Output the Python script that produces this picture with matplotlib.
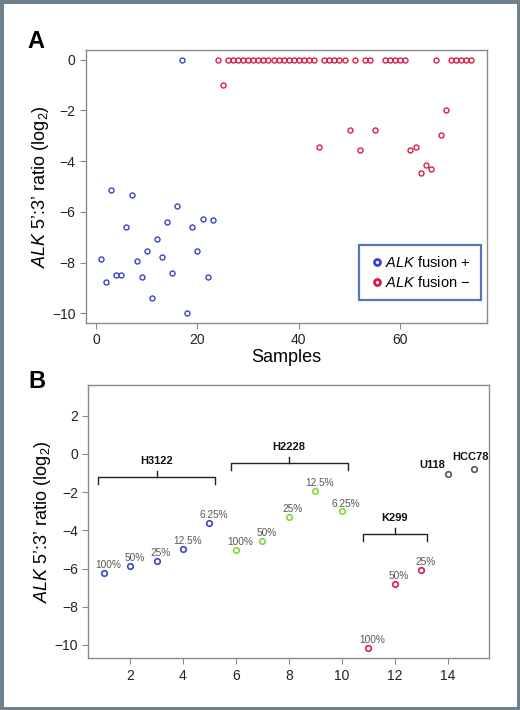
import matplotlib
matplotlib.use("Agg")
import matplotlib.pyplot as plt
from matplotlib.patches import Rectangle

plt.rcParams['font.family'] = ['Liberation Sans', 'DejaVu Sans']
plt.rcParams['mathtext.fontset'] = 'custom'
plt.rcParams['mathtext.rm'] = 'Liberation Sans'
plt.rcParams['mathtext.it'] = 'Liberation Sans:italic'

# Panel A: ALK 5':3' ratio per sample
pos_x = list(range(1, 24))
pos_y = [-7.87, -8.77, -5.13, -8.49, -8.49, -6.60, -5.32, -7.95, -8.58, -7.53,
         -9.41, -7.08, -7.77, -6.39, -8.42, -5.77, 0.0, -9.97, -6.60, -7.56,
         -6.27, -8.58, -6.32]

neg_x = list(range(24, 56)) + list(range(57, 75))
neg_y = ([0, -1.0] + [0] * 18 + [-3.44, 0, 0, 0, 0, 0, -2.79, 0, -3.57, 0, 0, -2.79]
         + [0, 0, 0, 0, 0, -3.57, -3.44, -4.45, -4.17, -4.32, 0, -2.99, -2.0,
            0, 0, 0, 0, 0])

# Panel B: dilution series of cell lines
lines = ['H3122', 'H2228', 'K299', 'U118', 'HCC78']
line_x = [[1, 2, 3, 4, 5], [6, 7, 8, 9, 10], [11, 12, 13], [14], [15]]
line_y = [[-6.21, -5.86, -5.58, -4.96, -3.61],
          [-5.04, -4.55, -3.30, -1.95, -3.00],
          [-10.16, -6.82, -6.06],
          [-1.03],
          [-0.79]]
line_pct = [['100%', '50%', '25%', '12.5%', '6.25%'],
            ['100%', '50%', '25%', '12.5%', '6.25%'],
            ['100%', '50%', '25%'],
            [],
            []]

blue = '#3a44c4'
red = '#dc1c48'
green = '#80d83c'
line_cols = [blue, green, red, '#555555', '#555555']
frame = '#8a8a8a'

ylab = r'$\it{ALK}$ 5’:3’ ratio (log$_2$)'

fig = plt.figure(figsize=(5.2, 7.1), dpi=100)
fig.patches.append(Rectangle((0, 0), 1, 1, transform=fig.transFigure, fill=False,
                             edgecolor='#6f808b', linewidth=5))


def style(ax):
    for s in ax.spines.values():
        s.set_color(frame)
        s.set_linewidth(1.0)
    ax.tick_params(direction='out', length=4, width=0.8, color=frame,
                   labelsize=10, labelcolor='#222222')


# ---- A ----
axA = fig.add_axes([0.1654, 0.5455, 0.7712, 0.3841])
axA.plot(pos_x, pos_y, 'o', mfc='none', mec=blue, ms=3.6, mew=1.0,
         label=r'$\it{ALK}$ fusion +')
axA.plot(neg_x, neg_y, 'o', mfc='none', mec=red, ms=3.6, mew=1.0,
         label=r'$\it{ALK}$ fusion −')
axA.set_xlim(-1.97, 77.1)
axA.set_ylim(-10.37, 0.38)
axA.set_xticks([0, 20, 40, 60])
axA.set_yticks([0, -2, -4, -6, -8, -10])
style(axA)
axA.set_xlabel('Samples', fontsize=13, labelpad=1)
axA.set_ylabel(ylab, fontsize=13, labelpad=1)
leg = axA.legend(loc='lower right', bbox_to_anchor=(0.985, 0.083), fontsize=10.5,
                 frameon=True, fancybox=False, handletextpad=0.1,
                 handlelength=1.0, borderpad=0.7, labelspacing=0.35,
                 markerscale=1.2, borderaxespad=0)
leg.get_frame().set_edgecolor('#2a55a8')
leg.get_frame().set_linewidth(1.6)
for h in leg.legend_handles:
    h.set_markeredgewidth(2.0)
fig.text(0.052, 0.9415, 'A', fontsize=17, fontweight='bold', ha='left', va='center')

# ---- B ----
axB = fig.add_axes([0.1698, 0.0728, 0.7712, 0.3854])
for xs, ys, pcts, col in zip(line_x, line_y, line_pct, line_cols):
    axB.plot(xs, ys, 'o', mfc='none', mec=col, ms=4, mew=1.2)
    for x, y, p in zip(xs, ys, pcts):
        axB.annotate(p, (x, y), xytext=(3, 2), textcoords='offset points',
                     ha='center', va='bottom', fontsize=7.3, color='#555555')

# brackets over each dilution group
bracket_y = [-1.22, -0.47, -4.2]
for xs, yb, name in zip(line_x[:3], bracket_y, lines[:3]):
    x0, x1 = min(xs) - 0.2, max(xs) + 0.22
    xm = (min(xs) + max(xs)) / 2
    axB.plot([x0, x0, x1, x1], [yb - 0.36, yb, yb, yb - 0.36], color='#222222', lw=1.0)
    axB.plot([xm, xm], [yb, yb + 0.32], color='#222222', lw=1.0)
    axB.text(xm, yb + 0.85, name, ha='center', va='center', fontsize=8,
             fontweight='bold', color='#111111')

axB.text(line_x[3][0] - 0.1, line_y[3][0] + 0.45, lines[3], ha='right', va='center',
         fontsize=8, fontweight='bold', color='#111111')
axB.text(line_x[4][0] - 0.15, line_y[4][0] + 0.65, lines[4], ha='center', va='center',
         fontsize=8, fontweight='bold', color='#111111')

axB.set_xlim(0.42, 15.58)
axB.set_ylim(-10.7, 3.63)
axB.set_xticks([2, 4, 6, 8, 10, 12, 14])
axB.set_yticks([2, 0, -2, -4, -6, -8, -10])
style(axB)
axB.set_ylabel(ylab, fontsize=13, labelpad=1)
fig.text(0.055, 0.462, 'B', fontsize=17, fontweight='bold', ha='left', va='center')

fig.savefig('out.png', dpi=100)
